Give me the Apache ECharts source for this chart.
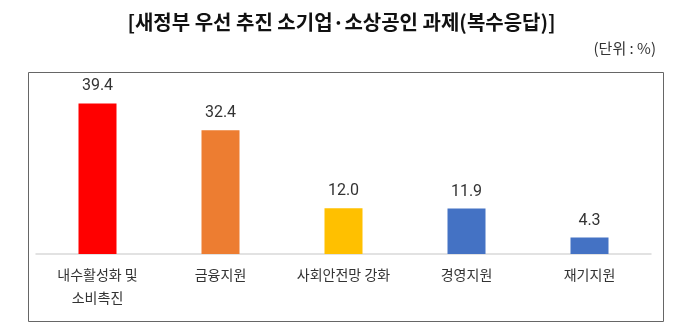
<!DOCTYPE html>
<html>
<head>
<meta charset="utf-8">
<script src="https://cdn.jsdelivr.net/npm/echarts@6/dist/echarts.min.js"></script>
<style>
  html, body { margin: 0; padding: 0; background: #fff; }
  #chart { width: 683px; height: 330px; }
</style>
</head>
<body>
<div id="chart"></div>
<script>
// Survey: small-business / small-merchant policy priorities (multiple response, %)
const categories = ['내수활성화 및\n소비촉진', '금융지원', '사회안전망 강화', '경영지원', '재기지원'];
const values = [39.4, 32.4, 12.0, 11.9, 4.3];
const barColors = ['#FF0000', '#ED7D31', '#FFC000', '#4472C4', '#4472C4'];

const titleText = '[새정부 우선 추진 소기업·소상공인 과제(복수응답)]';
const unitText = '(단위 : %)';

const chart = echarts.init(document.getElementById('chart'), null, { renderer: 'canvas' });

chart.setOption({
  backgroundColor: '#ffffff',
  animation: false,
  title: {
    text: titleText,
    left: 'center',
    top: 7,
    textStyle: {
      fontFamily: 'Noto Sans CJK KR',
      fontSize: 20,
      fontWeight: 'bold',
      color: '#111'
    }
  },
  graphic: [
    {
      type: 'text',
      right: 27,
      top: 41,
      style: {
        text: unitText,
        fontFamily: 'Noto Sans CJK KR',
        fontSize: 15,
        fill: '#333'
      }
    },
    {
      type: 'rect',
      left: 26,
      top: 70,
      shape: { width: 635, height: 249 },
      style: { fill: 'none', stroke: '#666', lineWidth: 1 },
      silent: true
    }
  ],
  grid: { left: 36, right: 32, top: 82, bottom: 76 },
  xAxis: {
    type: 'category',
    data: categories,
    axisLine: { lineStyle: { color: '#d9d9d9', width: 1.5 } },
    axisTick: { show: false },
    axisLabel: {
      interval: 0,
      margin: 9,
      fontFamily: 'Noto Sans CJK KR',
      fontSize: 14,
      lineHeight: 23,
      color: '#333'
    }
  },
  yAxis: {
    type: 'value',
    min: 0,
    max: 45,
    show: false,
    splitLine: { show: false }
  },
  series: [{
    type: 'bar',
    barWidth: 38,
    data: values.map((v, i) => ({ value: v, itemStyle: { color: barColors[i] } })),
    label: {
      show: true,
      position: 'top',
      distance: 9,
      formatter: p => p.value.toFixed(1),
      fontFamily: 'Roboto',
      fontSize: 16,
      color: '#333'
    }
  }]
});
</script>
</body>
</html>
